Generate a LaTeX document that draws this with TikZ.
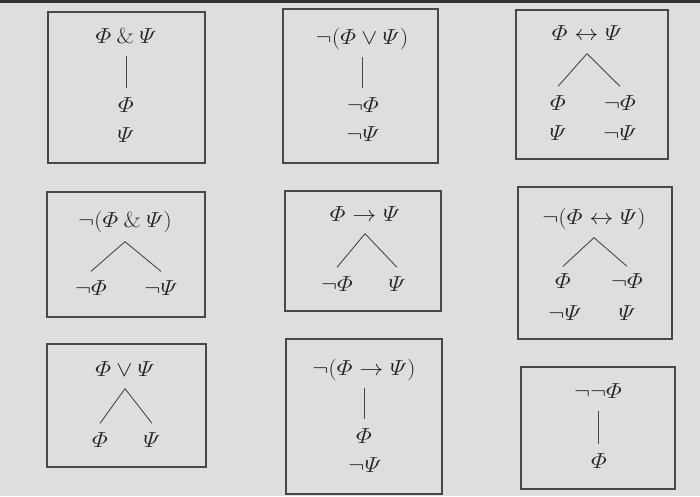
\documentclass[tikz,border=0pt]{standalone}
\usepackage{amsmath}
\definecolor{paper}{RGB}{222,223,220}
\definecolor{ink}{RGB}{35,35,35}
\definecolor{rulegray}{RGB}{72,72,72}
\begin{document}
\begin{tikzpicture}[x=1pt,y=-1pt,
  fml/.style={inner sep=0pt,text height=14pt,text depth=4pt,text=ink,font=\huge,xscale=1.16,yscale=1.05},
  frame/.style={draw=rulegray,line width=1.3pt},
  stem/.style={draw=rulegray,line width=0.9pt,shorten <=8pt,shorten >=9pt},
  leg/.style={draw=rulegray,line width=0.9pt}]
\fill[paper] (0,0) rectangle (700,496);
\fill[rulegray!70!black] (0,0) rectangle (700,2.5);
% row 1
\draw[frame] (48,12) rectangle (205,163);
\node (t1) at (126,38) [fml] {$\varPhi \mathbin{\&} \varPsi$};
\node (b1a) at (126,107) [fml] {$\varPhi$};
\node (b1b) at (126,137) [fml] {$\varPsi$};
\draw[stem] (t1.south) -- (t1.south |- b1a.north);
\draw[frame] (283,9) rectangle (438,163);
\node (t2) at (362,39) [fml] {$\neg(\varPhi \vee \varPsi)$};
\node (b2a) at (363,107) [fml] {$\neg\varPhi$};
\node (b2b) at (363,136) [fml] {$\neg\varPsi$};
\draw[stem] (t2.south) -- (t2.south |- b2a.north);
\draw[frame] (516,10) rectangle (668,159);
\node (t3) at (587,35) [fml] {$\varPhi \leftrightarrow \varPsi$};
\node (b3l) at (558,105) [fml] {$\varPhi$};
\node (b3r) at (620,105) [fml] {$\neg\varPhi$};
\node (b3l2) at (558,135) [fml] {$\varPsi$};
\node (b3r2) at (620,135) [fml] {$\neg\varPsi$};
\draw[leg] ([yshift=9pt]b3l.north) -- ([yshift=-9pt]t3.south) -- ([yshift=9pt]b3r.north);
% row 2
\draw[frame] (47,192) rectangle (205,317);
\node (t4) at (125,222) [fml] {$\neg(\varPhi \mathbin{\&} \varPsi)$};
\node (b4l) at (91,290) [fml] {$\neg\varPhi$};
\node (b4r) at (161,290) [fml] {$\neg\varPsi$};
\draw[leg] ([yshift=9pt]b4l.north) -- ([yshift=-10pt]t4.south) -- ([yshift=9pt]b4r.north);
\draw[frame] (285,191) rectangle (441,311);
\node (t5) at (365,216) [fml] {$\varPhi \to \varPsi$};
\node (b5l) at (337,286) [fml] {$\neg\varPhi$};
\node (b5r) at (397,286) [fml] {$\varPsi$};
\draw[leg] ([yshift=9pt]b5l.north) -- ([yshift=-8pt]t5.south) -- ([yshift=9pt]b5r.north);
\draw[frame] (518,187) rectangle (672,339);
\node (t6) at (594,219) [fml] {$\neg(\varPhi \leftrightarrow \varPsi)$};
\node (b6l) at (563,283) [fml] {$\varPhi$};
\node (b6r) at (627,283) [fml] {$\neg\varPhi$};
\node (b6l2) at (565,315) [fml] {$\neg\varPsi$};
\node (b6r2) at (627,315) [fml] {$\varPsi$};
\draw[leg] ([yshift=7pt]b6l.north) -- ([yshift=-9pt]t6.south) -- ([yshift=7pt]b6r.north);
% row 3
\draw[frame] (47,344) rectangle (206,467);
\node (t7) at (125,371) [fml] {$\varPhi \vee \varPsi$};
\node (b7l) at (100,442) [fml] {$\varPhi$};
\node (b7r) at (152,442) [fml] {$\varPsi$};
\draw[leg] ([yshift=9pt]b7l.north) -- ([yshift=-8pt]t7.south) -- ([yshift=9pt]b7r.north);
\draw[frame] (286,339) rectangle (442,494);
\node (t8) at (364,370) [fml] {$\neg(\varPhi \to \varPsi)$};
\node (b8a) at (364,438) [fml] {$\varPhi$};
\node (b8b) at (365,467) [fml] {$\neg\varPsi$};
\draw[stem] (t8.south) -- (t8.south |- b8a.north);
\draw[frame] (521,367) rectangle (675,489);
\node (t9) at (598,393) [fml] {$\neg\neg\varPhi$};
\node (b9) at (599,463) [fml] {$\varPhi$};
\draw[stem] (t9.south) -- (t9.south |- b9.north);
\end{tikzpicture}
\end{document}
